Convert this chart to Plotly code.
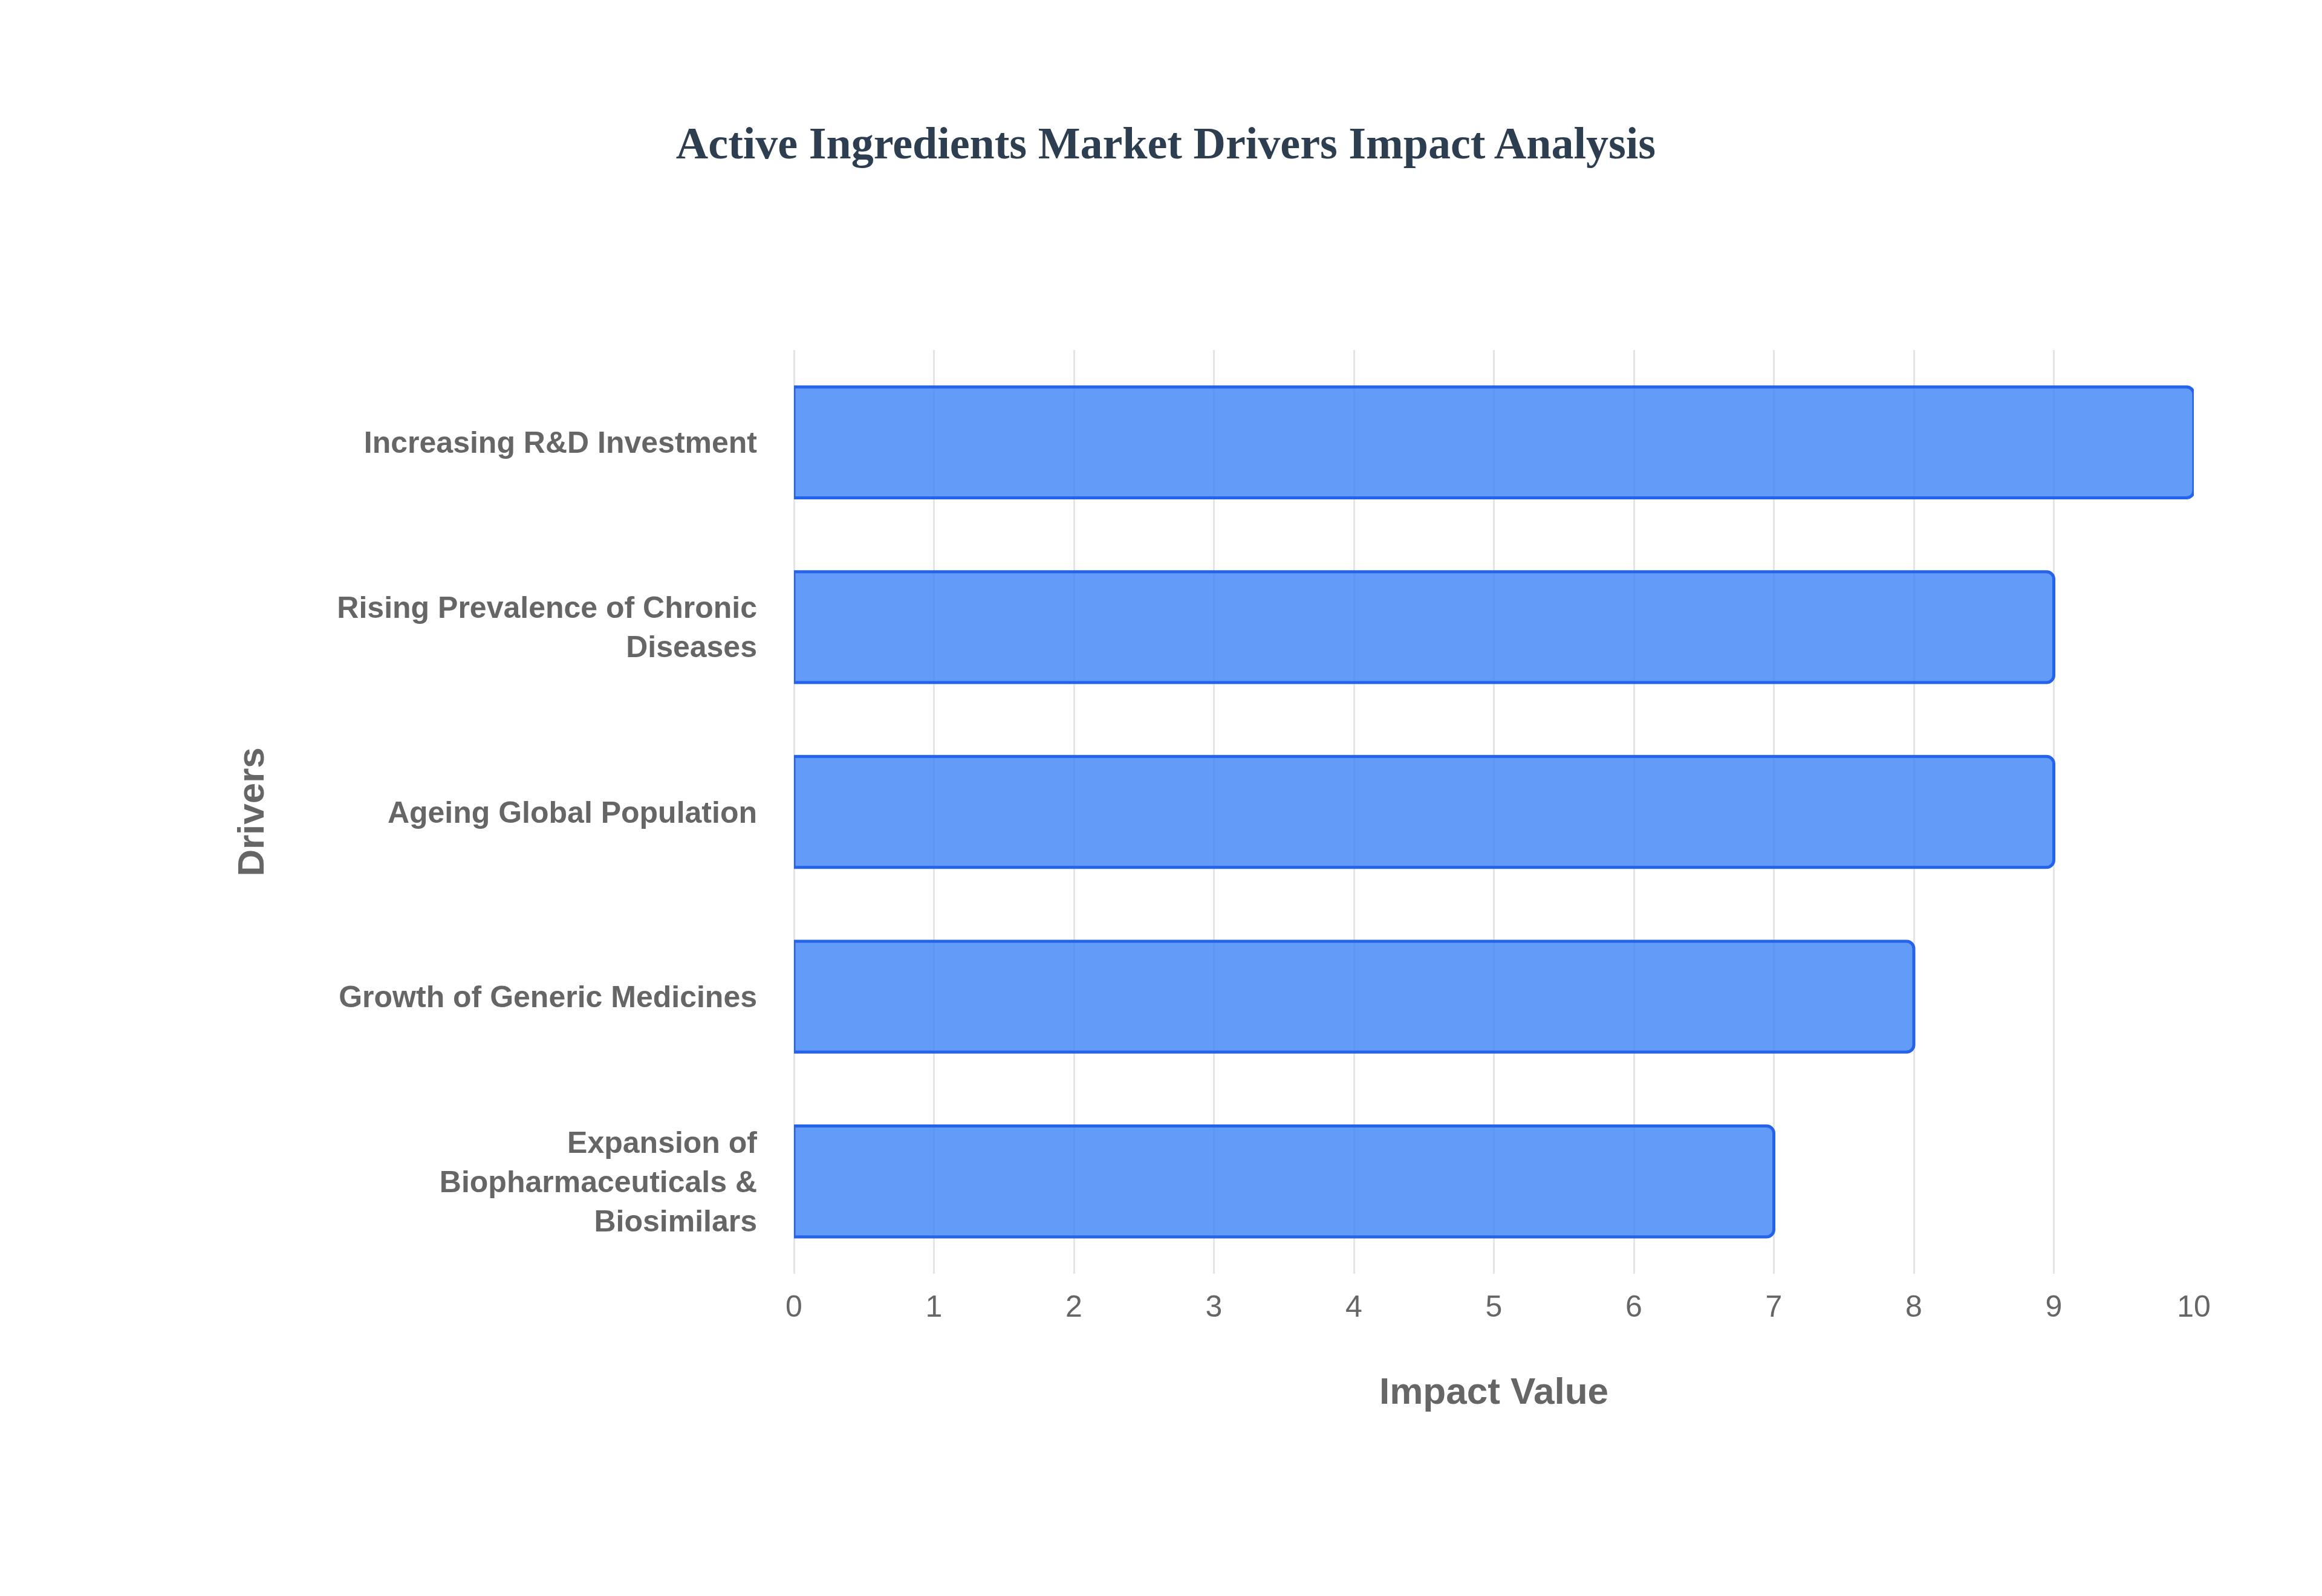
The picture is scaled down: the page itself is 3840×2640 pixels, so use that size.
import plotly.graph_objects as go

drivers = ["Increasing R&D Investment",
           "Rising Prevalence of Chronic<br>Diseases",
           "Ageing Global Population",
           "Growth of Generic Medicines",
           "Expansion of<br>Biopharmaceuticals &<br>Biosimilars"]
impact = [10, 9, 9, 8, 7]

fig = go.Figure(go.Bar(
    x=impact, y=drivers, orientation="h", width=0.6,
    marker=dict(color="rgba(59,130,246,0.8)", line=dict(color="#2563eb", width=5)),
))
fig.update_layout(
    width=3840, height=2640, barcornerradius=12,
    paper_bgcolor="white", plot_bgcolor="white",
    margin=dict(l=1305, r=220, t=571, b=541),
    title=dict(text="<b>Active Ingredients Market Drivers Impact Analysis</b>",
               x=0.5, xanchor="center", y=1-228/2640, yanchor="middle",
               font=dict(family="Liberation Serif", size=74, color="#2c3e50")),
    font=dict(family="Liberation Sans", color="#666666"),
    showlegend=False,
)
fig.update_xaxes(range=[0, 10], dtick=1, showgrid=True, gridcolor="#e5e5e5", gridwidth=3,
                 zeroline=True, zerolinecolor="#e5e5e5", zerolinewidth=3,
                 tickfont=dict(size=50, family="Liberation Sans", color="#666666"),
                 ticklabelstandoff=20,
                 title=dict(text="<b>Impact Value</b>", font=dict(size=62, color="#666666"), standoff=90))
fig.update_yaxes(autorange="reversed", showgrid=False, ticklabelstandoff=60,
                 tickfont=dict(size=50, family="Liberation Sans", color="#666666"),
                 tickprefix="<b>", ticksuffix="</b>",
                 title=dict(text="<b>Drivers</b>", font=dict(size=62, color="#666666"), standoff=100))
fig.write_html("out.html")
